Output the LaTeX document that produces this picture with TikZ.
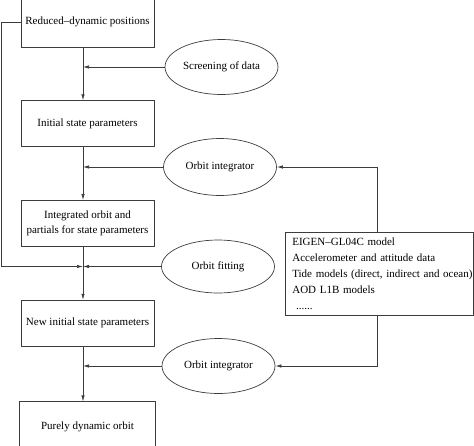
\documentclass[tikz,border=0pt]{standalone}
\usepackage{fontspec}
\setmainfont{Liberation Serif}
\usetikzlibrary{shapes.geometric, arrows.meta, positioning, calc}
\definecolor{cLine}{RGB}{60,60,60}
\tikzset{
    process/.style  ={rectangle, minimum width=133pt, minimum height=46pt, text centered, align=center, draw=cLine, line width=0.7pt, inner sep=2pt},
    operation/.style={ellipse, minimum width=113pt, minimum height=55pt, text centered, inner sep=0pt, draw=cLine, line width=0.7pt},
    models/.style   ={rectangle, anchor=north west, minimum width=188pt, minimum height=83pt, text width=174pt, align=left, inner xsep=7pt, inner ysep=4pt, draw=cLine, line width=0.7pt, font=\fontsize{11}{16}\selectfont},
    flowarrow/.style={-{Latex[length=6pt, width=3.4pt]}, draw=cLine, line width=0.7pt},
}

\begin{document}
\begin{tikzpicture}[x=1pt, y=-1pt, every node/.style={font=\fontsize{11}{15}\selectfont}, node distance=53pt]
    \useasboundingbox (0,0) rectangle (474,445);
    \coordinate (axis) at (83,0);
    \coordinate (feed) at (377,0);
    % main column
    \node[process, minimum height=50pt] (rdp) at (87.5,22) {Reduced--dynamic positions};
    \node[process, below=53pt of rdp] (isp) {Initial state parameters};
    \node[process, below=of isp] (iop) {Integrated orbit and\\partials for state parameters};
    \node[process, below=of iop] (nisp) {New initial state parameters};
    \node[process, below=55pt of nisp, minimum width=136pt, minimum height=50pt] (pdo) {Purely dynamic orbit};
    % side steps
    \node[operation] (scr) at (221.5,67) {Screening of data};
    \node[operation, minimum height=57pt] (oi1) at (220,167) {Orbit integrator};
    \node[operation, minimum height=53pt] (fit) at (218,266.5) {Orbit fitting};
    \node[operation] (oi2) at (218.5,366) {Orbit integrator};
    \node[models] (mod) at (285,232) {EIGEN--GL04C model\\Accelerometer and attitude data\\\makebox[174pt][l]{Tide models (direct, indirect and ocean)}\\AOD L1B models\\\ ......};

    \draw[flowarrow] (rdp.south -| axis) -- (isp.north -| axis);
    \draw[flowarrow] (isp.south -| axis) -- (iop.north -| axis);
    \draw[flowarrow] (iop.south -| axis) -- (nisp.north -| axis);
    \draw[flowarrow] (nisp.south -| axis) -- (pdo.north -| axis);
    \draw[flowarrow] (scr.west) -- (scr.west -| axis);
    \draw[flowarrow] (oi1.west) -- (oi1.west -| axis);
    \draw[flowarrow] (fit.west) -- (fit.west -| axis);
    \draw[flowarrow] (oi2.west) -- (oi2.west -| axis);
    \draw[flowarrow] (rdp.west) -- ++(-19,0) |- (fit.west -| axis);
    \draw[flowarrow] (mod.north -| feed) |- (oi1.east);
    \draw[flowarrow] (mod.south -| feed) |- (oi2.east);
\end{tikzpicture}
\end{document}
